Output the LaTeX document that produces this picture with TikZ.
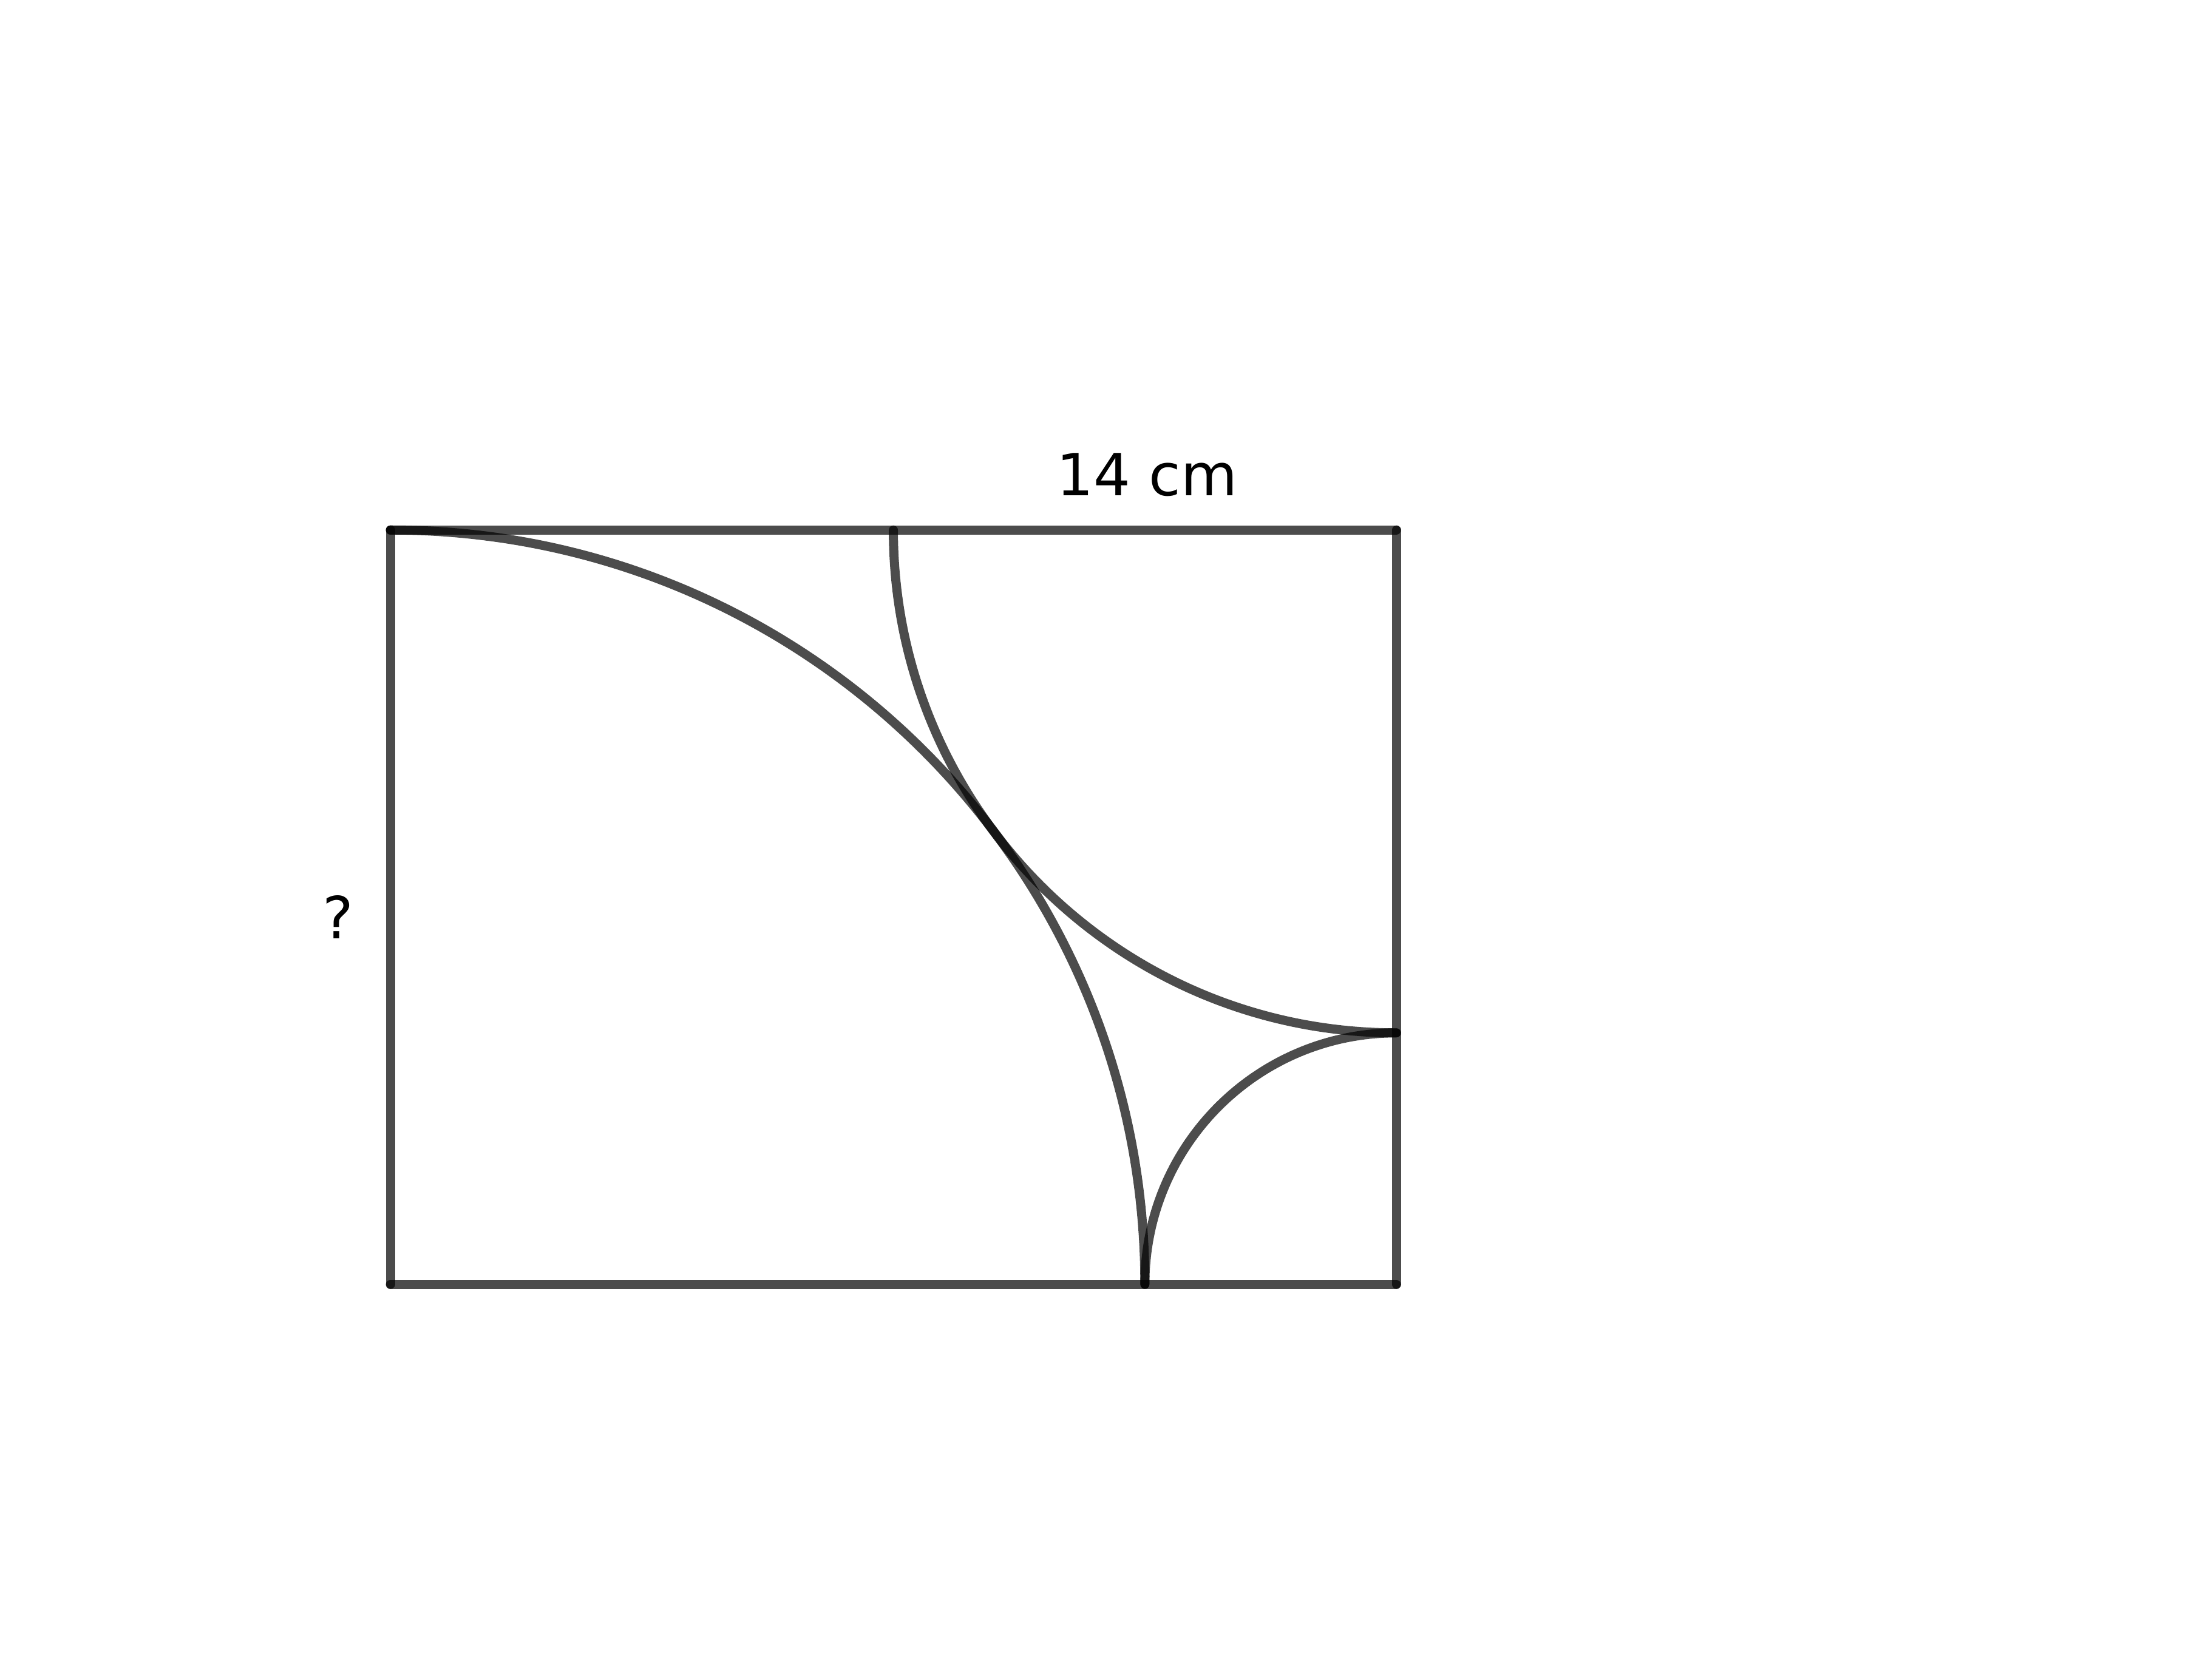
\documentclass[tikz,border=0pt]{standalone}
\usepackage{fontspec}
\setmainfont{DejaVu Sans}
\usetikzlibrary{calc}
\def\setofsides{A/B, B/C, C/D, D/A}
\tikzset{edge/.style={draw=black, opacity=0.7, line width=3.6pt, line cap=round}}
\begin{document}
\begin{tikzpicture}[every node/.style={inner sep=0pt, font=\fontsize{23}{27}\selectfont}]
    \useasboundingbox (-5.433,-5.5) rectangle (25.101,17.878);

    %% CORNERS AND ARC ENDS
    \coordinate (A) at (0,0);
    \coordinate (B) at (14,0);
    \coordinate (C) at (14,10.5);
    \coordinate (D) at (0,10.5);
    \coordinate (E) at (10.5,0);
    \coordinate (F) at (14,3.5);
    \coordinate (G) at (7,10.5);

    %% DRAW RECTANGLE
    \foreach \p/\q in \setofsides {%
      \draw[edge] (\p) -- (\q);%
    }

    %% DRAW ARCS
    \draw[edge] (D) arc[start angle=90, end angle=0, radius=10.5];
    \draw[edge] (G) arc[start angle=180, end angle=270, radius=7];
    \draw[edge] (E) arc[start angle=180, end angle=90, radius=3.5];

    %% LABELS
    \node[anchor=base] (width) at (10.53,10.98) {14 cm};
    \node[anchor=base] (height) at (-0.73,4.81) {?};
\end{tikzpicture}
\end{document}
